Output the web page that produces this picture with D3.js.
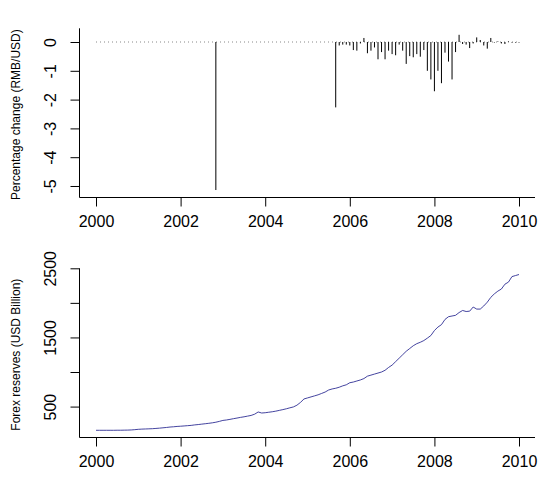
<!DOCTYPE html>
<html>
<head>
<meta charset="utf-8">
<script src="https://cdn.jsdelivr.net/npm/d3@7"></script>
<style>
  body { margin: 0; background: #fff; }
  svg { display: block; font-family: "Liberation Sans", Arial, Helvetica, sans-serif; }
</style>
</head>
<body>
<div id="chart"></div>
<script>
// monthly observations, Jan 2000 .. Jan 2010 (one row per year)
var startYear = 2000;
var monthCount = 121;

// month-on-month percentage change of the RMB/USD rate
var rateChange = [
  0, 0, 0, 0, 0, 0, 0, 0, 0, 0, 0, 0,
  0, 0, 0, 0, 0, 0, 0, 0, 0, 0, 0, 0,
  0, 0, 0, 0, 0, 0, 0, 0, 0, 0, -5.14, 0,
  0, 0, 0, 0, 0, 0, 0, 0, 0, 0, 0, 0,
  0, 0, 0, 0, 0, 0, 0, 0, 0, 0, 0, 0,
  0, 0, 0, 0, 0, 0, 0, 0, -2.27, -0.12, -0.09, -0.09,
  -0.12, -0.28, -0.30, -0.05, 0.14, -0.39, -0.30, -0.19, -0.60, -0.35, -0.60, -0.30,
  -0.42, -0.46, -0.09, -0.30, -0.76, -0.49, -0.53, -0.42, -0.51, -0.28, -1.00, -1.30,
  -1.71, -1.00, -1.43, -0.37, -0.68, -1.30, -0.35, 0.25, -0.07, -0.09, -0.21, -0.05,
  0.16, 0.07, -0.12, -0.23, 0.14, -0.02, 0.02, -0.05, -0.07, 0.02, -0.02, -0.02,
  -0.02
];

// foreign exchange reserves, USD billion
var reserves = [
  157, 157, 157, 157, 157, 157, 158, 158, 159, 160, 162, 166,
  171, 174, 176, 178, 180, 184, 188, 193, 198, 204, 208, 213,
  216, 220, 224, 228, 235, 240, 246, 252, 258, 265, 274, 286,
  300, 306, 315, 325, 334, 344, 352, 362, 372, 390, 422, 407,
  411, 418, 425, 434, 445, 456, 468, 482, 495, 520, 560, 610,
  625, 640, 655, 670, 690, 710, 740, 755, 765, 780, 800, 815,
  845, 855, 870, 885, 905, 940, 955, 970, 985, 1000, 1025, 1066,
  1100, 1150, 1200, 1250, 1300, 1340, 1380, 1410, 1430, 1455, 1490, 1528,
  1600, 1650, 1685, 1760, 1800, 1810, 1820, 1860, 1890, 1875, 1880, 1940,
  1910, 1910, 1955, 2010, 2080, 2130, 2170, 2200, 2270, 2300, 2380, 2395,
  2410
];

var yearTicks = [2000, 2002, 2004, 2006, 2008, 2010];
var changeTicks = [0, -1, -2, -3, -4, -5];
var reserveTicks = [500, 1000, 1500, 2000, 2500];
var reserveLabels = [500, 1500, 2500];

var width = 550, height = 480;
var fontSize = 16;

var months = d3.range(monthCount).map(function(k) { return startYear + k / 12; });

var svg = d3.select("#chart").append("svg")
    .attr("width", width)
    .attr("height", height);

// shared horizontal scale, R style 4% padding
var x = d3.scaleLinear()
    .domain([1999.598, 2010.378])
    .range([79, 535]);

function drawPanel(top, bottom, y, ticks, labels, title) {
    var g = svg.append("g");

    // L shaped box
    g.append("path")
        .attr("d", "M79.5," + top + "V" + (bottom + 0.5) + "H535")
        .attr("fill", "none")
        .attr("stroke", "#000");

    var xAxis = d3.axisBottom(x)
        .tickValues(yearTicks)
        .tickFormat(d3.format("d"))
        .tickSize(9)
        .tickPadding(5);

    g.append("g")
        .attr("transform", "translate(0," + (bottom + 0.5) + ")")
        .call(xAxis)
        .call(function(a) {
            a.select(".domain").remove();
            a.selectAll("text").attr("font-size", fontSize).attr("font-family", null).attr("dy", "0.95em");
        });

    var yAxis = d3.axisLeft(y)
        .tickValues(ticks)
        .tickFormat(function(d) { return labels.indexOf(d) >= 0 ? d : ""; })
        .tickSize(9);

    g.append("g")
        .attr("transform", "translate(79.5,0)")
        .call(yAxis)
        .call(function(a) {
            a.select(".domain").remove();
            a.selectAll("text")
                .attr("font-size", fontSize)
                .attr("font-family", null)
                .attr("x", null)
                .attr("dy", null)
                .attr("text-anchor", "middle")
                .attr("transform", "translate(-24,0) rotate(-90)");
        });

    g.append("text")
        .attr("transform", "translate(20," + ((top + bottom) / 2 + 2) + ") rotate(-90)")
        .attr("text-anchor", "middle")
        .attr("font-size", 12)
        .text(title);

    return g;
}

// top panel: exchange rate changes
var y1 = d3.scaleLinear()
    .domain([-5.382, 0.476])
    .range([197, 28.3]);

var p1 = drawPanel(28.3, 197, y1, changeTicks, changeTicks, "Percentage change (RMB/USD)");

p1.append("line")
    .attr("x1", x(months[0]))
    .attr("x2", x(months[monthCount - 1]))
    .attr("y1", y1(0))
    .attr("y2", y1(0))
    .attr("stroke", "#888")
    .attr("stroke-dasharray", "1,3");

p1.selectAll(".bar")
    .data(months.map(function(m, i) { return { t: m, v: rateChange[i] }; })
        .filter(function(d) { return d.v !== 0; }))
    .enter().append("line")
    .attr("class", "bar")
    .attr("x1", function(d) { return x(d.t); })
    .attr("x2", function(d) { return x(d.t); })
    .attr("y1", y1(0))
    .attr("y2", function(d) { return y1(d.v); })
    .attr("stroke", "#000")
    .attr("stroke-width", 1);

// bottom panel: reserves
var y2 = d3.scaleLinear()
    .domain([60, 2500])
    .range([437, 268.3]);

var p2 = drawPanel(268.3, 437, y2, reserveTicks, reserveLabels, "Forex reserves (USD Billion)");

var line = d3.line()
    .x(function(d, i) { return x(months[i]); })
    .y(function(d) { return y2(d); });

p2.append("path")
    .datum(reserves)
    .attr("d", line)
    .attr("fill", "none")
    .attr("stroke", "#23238e")
    .attr("stroke-opacity", 0.85)
    .attr("stroke-width", 1);
</script>
</body>
</html>
